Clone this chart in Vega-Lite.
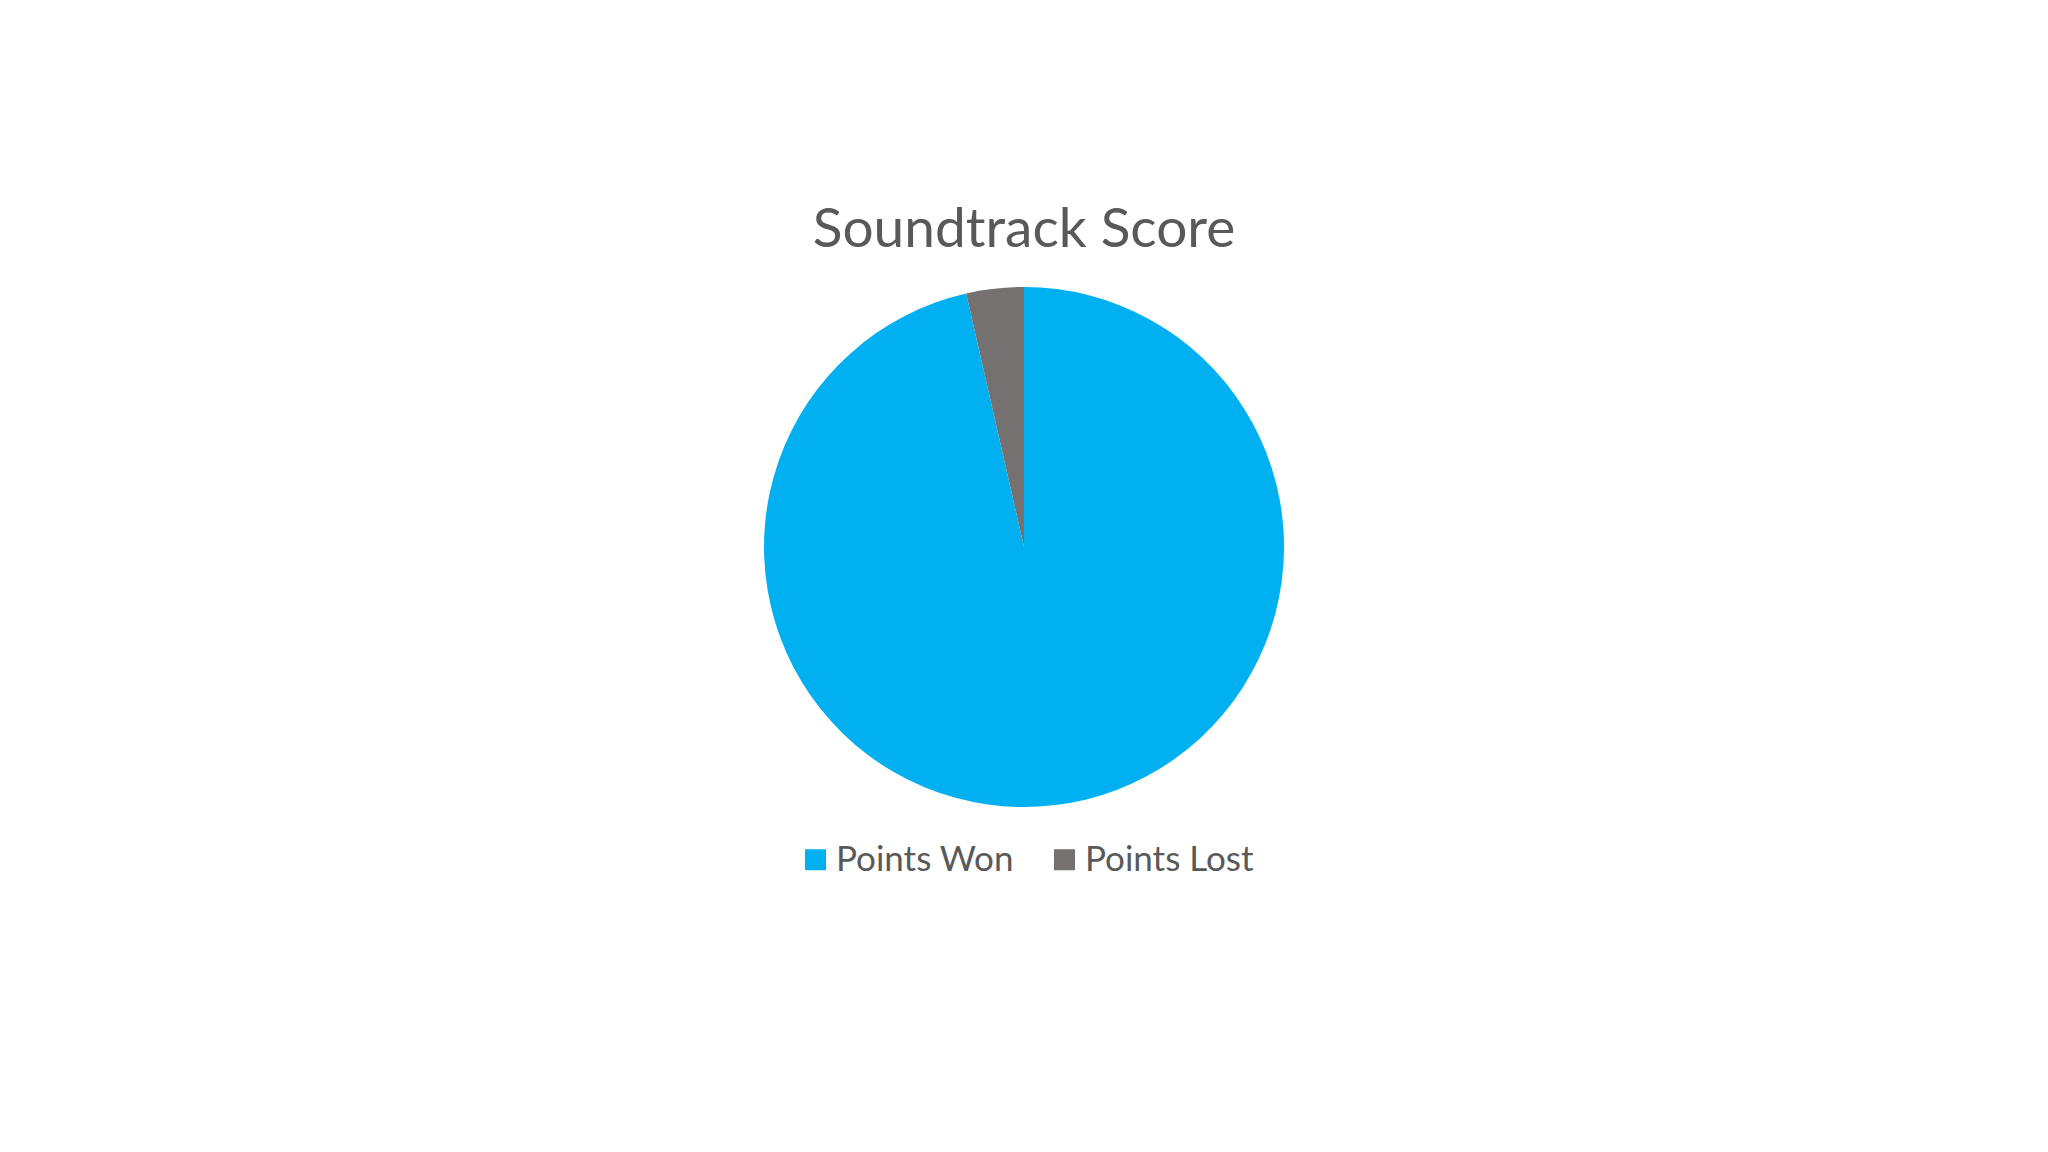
{
  "$schema": "https://vega.github.io/schema/vega-lite/v6.json",
  "description": "Soundtrack Score: points won vs points lost",
  "width": 520,
  "height": 520,
  "autosize": "none",
  "padding": {"left": 764, "top": 287, "right": 764, "bottom": 345},
  "background": "white",
  "title": {
    "text": "Soundtrack Score",
    "font": "Lato",
    "fontSize": 55,
    "fontWeight": "normal",
    "color": "#595959",
    "anchor": "middle",
    "baseline": "alphabetic",
    "offset": -15
  },
  "data": {
    "values": [
      {"result": "Points Won", "points": 27, "order": 1},
      {"result": "Points Lost", "points": 1, "order": 2}
    ]
  },
  "mark": {"type": "arc", "stroke": null},
  "encoding": {
    "theta": {"field": "points", "type": "quantitative", "stack": true},
    "order": {"field": "order", "type": "quantitative"},
    "color": {
      "field": "result",
      "type": "nominal",
      "sort": ["Points Won", "Points Lost"],
      "scale": {"domain": ["Points Won", "Points Lost"], "range": ["#00B0F0", "#767171"]},
      "legend": {
        "title": null,
        "orient": "none",
        "legendX": 34,
        "legendY": 555,
        "direction": "horizontal",
        "symbolType": "square",
        "symbolSize": 441,
        "symbolStrokeWidth": 0,
        "symbolOpacity": 1,
        "labelFont": "Lato",
        "labelFontSize": 35,
        "labelColor": "#595959",
        "labelOffset": 3,
        "labelLimit": 400,
        "columnPadding": 33
      }
    }
  },
  "config": {"view": {"stroke": null}}
}
